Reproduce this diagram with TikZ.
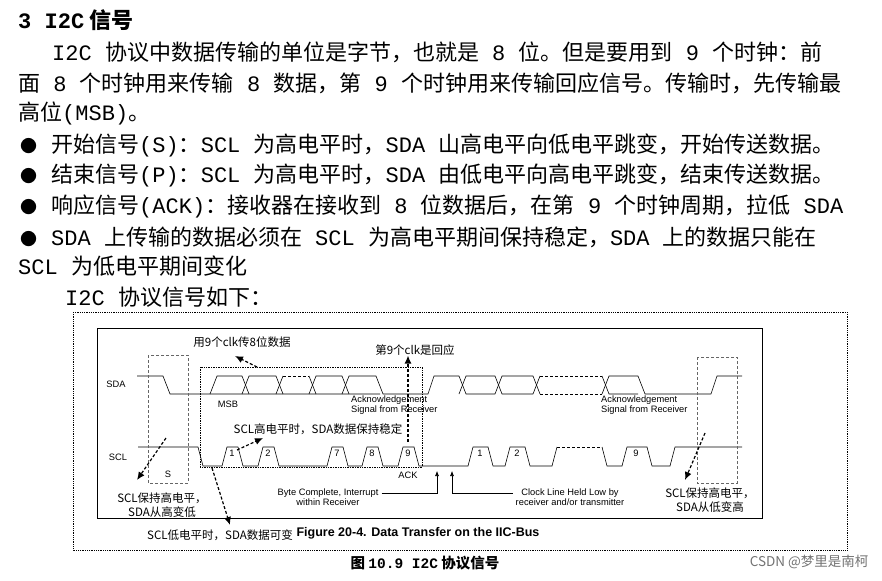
\documentclass[tikz,border=0pt]{standalone}
\usepackage{fontspec}
\setmainfont{Noto Sans CJK SC}
\newfontfamily\m{Liberation Mono}
\newfontfamily\ar{Liberation Sans}
\newfontfamily\cj{Noto Sans CJK SC}
\usetikzlibrary{arrows.meta}
\begin{document}
\begin{tikzpicture}[x=1pt,y=-1pt,
  body/.style={anchor=west,inner sep=0,font=\fontsize{22}{26}\selectfont},
  sig/.style={line width=0.6pt},
  lab/.style={font=\ar\fontsize{9.3}{10.5}\selectfont,inner sep=0,align=center},
  ann/.style={font=\cj\fontsize{11.5}{14}\selectfont,inner sep=0,align=center},
  darr/.style={densely dashed,line width=1.2pt,-{Latex[length=8pt,width=7pt]}},
  sarr/.style={line width=0.6pt,-{Latex[length=5pt,width=4pt]}}]
\useasboundingbox (0,0) rectangle (882,580);
\fill[white] (0,0) rectangle (882,580);
\newcommand\bul{{\fontsize{17}{20}\selectfont ●}\hspace{14pt}}
% text
\node[body,font=\bfseries\fontsize{22}{26}\selectfont] (t0) at (18,20) {{\m 3 I2C} 信号};
\node[body] (t1) at (52,52) {{\m I2C }协议中数据传输的单位是字节，也就是{\m{} 8 }位。但是要用到{\m{} 9 }个时钟：前};
\node[body] (t2) at (18,83) {面{\m{} 8 }个时钟用来传输{\m{} 8 }数据，第{\m{} 9 }个时钟用来传输回应信号。传输时，先传输最};
\node[body] (t3) at (18,113) {高位{\m(MSB)}。};
\node[body] (b1) at (20,145) {\bul 开始信号{\m(S)}：{\m SCL }为高电平时，{\m SDA }山高电平向低电平跳变，开始传送数据。};
\node[body] (b2) at (20,175) {\bul 结束信号{\m(P)}：{\m SCL }为高电平时，{\m SDA }由低电平向高电平跳变，结束传送数据。};
\node[body] (b3) at (20,206) {\bul 响应信号{\m(ACK)}：接收器在接收到{\m{} 8 }位数据后，在第{\m{} 9 }个时钟周期，拉低{\m{} SDA}};
\node[body] (b4) at (20,237) {\bul {\m SDA }上传输的数据必须在{\m{} SCL }为高电平期间保持稳定，{\m SDA }上的数据只能在};
\node[body] (t5) at (18,266) {{\m SCL }为低电平期间变化};
\node[body] (t6) at (65,297) {{\m I2C }协议信号如下：};
% frames
\draw[densely dotted,line width=0.8pt] (73,312) rectangle (847,550);
\draw[line width=1pt] (97,328) rectangle (762,518);
\node[font=\ar\bfseries\fontsize{12.5}{14}\selectfont] (cap) at (418,533) {Figure 20-4. Data Transfer on the IIC-Bus};
\node[font=\bfseries\fontsize{14.5}{16}\selectfont] (cap2) at (425,563) {图\ {\m 10.9 I2C} 协议信号};
\node[anchor=east,text=black!55,font=\fontsize{13.5}{16}\selectfont] (wm) at (872,562) {CSDN @梦里是南柯};
% SDA
\node[lab] (sda) at (116,384) {SDA};
\node[lab] (scl) at (118,457) {SCL};
\draw[sig] (137,376)--(163,376)--(170,394)--(380,394);
\draw[sig] (210,394)--(217,376)--(242,376)--(249,394);
\draw[sig] (242,394)--(249,376)--(276,376)--(283,394);
\draw[sig] (276,394)--(283,376);
\draw[sig,densely dashed] (283,376)--(309,376);
\draw[sig] (309,376)--(316,394);
\draw[sig] (309,394)--(316,376)--(342,376)--(349,394);
\draw[sig] (342,394)--(349,376)--(376,376)--(383,394)--(428,394)--(434,376)--(459,376)--(466,394)--(495,394)--(502,376)--(533,376)--(540,394);
\draw[sig] (459,394)--(466,376)--(495,376)--(502,394)--(533,394)--(540,376);
\draw[sig,densely dashed] (540,376)--(602,376);
\draw[sig,densely dashed] (540,394)--(602,394);
\draw[sig] (602,376)--(609,394)--(638,394);
\draw[sig] (602,394)--(609,376)--(638,376)--(645,394)--(711,394)--(717,376)--(742,376);
% SCL
\draw[sig] (138,447)--(198,447)--(203,466)--(222,466)
  --(227,447)--(238,447)--(243,466)--(258,466)
  --(263,447)--(274,447)--(279,466)--(327,466)
  --(332,447)--(343,447)--(348,466)--(362,466)
  --(367,447)--(378,447)--(383,466)--(398,466)
  --(403,447)--(414,447)--(419,466)--(468,466)
  --(473,447)--(488,447)--(493,466)--(505,466)
  --(510,447)--(525,447)--(530,466)--(552,466)--(557,447);
\draw[sig,densely dashed] (557,447)--(602,447);
\draw[sig] (602,447)--(607,466)--(622,466)--(627,447)--(647,447)--(652,466)--(670,466)--(675,447)--(742,447);
\foreach \x/\t in {232/1,268/2,337/7,372/8,408/9,480/1,517/2,636/9}
  \node[lab] at (\x,453) {\t};
% boxes
\draw[densely dashed,gray!80!black] (148,355) rectangle (188,483);
\node[lab] (S) at (168,474) {S};
\draw[densely dashed,gray!80!black] (697,357) rectangle (737,483);
\draw[densely dotted,line width=0.7pt] (200,367) rectangle (422,467);
% labels
\node[lab] (msb) at (228,404) {MSB};
\node[lab,align=left,anchor=west] (ack1) at (351,405) {Acknowledgement\\Signal from Receiver};
\node[lab,align=left,anchor=west] (ack2) at (601,405) {Acknowledgement\\Signal from Receiver};
\node[lab] (ACK) at (408,475) {ACK};
\node[lab] (bc) at (328,497) {Byte Complete, Interrupt\\within Receiver};
\node[lab] (cl) at (570,497) {Clock Line Held Low by\\receiver and/or transmitter};
\coordinate (c1) at (437,493);
\coordinate (c2) at (452,493);
\draw[sarr] ([xshift=3pt]bc.east|-c1) -- (c1) -- (437,471);
\draw[sarr] ([xshift=-3pt]cl.west|-c2) -- (c2) -- (452,471);
% annotations
\node[ann] (a1) at (242,342) {用9个clk传8位数据};
\node[ann] (a2) at (415,350) {第9个clk是回应};
\node[ann] (a3) at (318,429) {SCL高电平时，SDA数据保持稳定};
\node[ann] (a4) at (162,505) {SCL保持高电平，\\SDA从高变低};
\node[ann] (a5) at (220,535) {SCL低电平时，SDA数据可变};
\node[ann] (a6) at (710,500) {SCL保持高电平，\\SDA从低变高};
\coordinate (p1) at (257,367);
\coordinate (p2) at (408,442);
\coordinate (p3) at (237,450);
\coordinate (p4) at (166,438);
\coordinate (p5) at (212,468);
\coordinate (p6) at (705,433);
\draw[darr] (p1) -- (235,356);
\draw[darr] (p2) -- (a2.south-|p2);
\draw[darr] (p3) -- (263,438);
\draw[darr] (p4) -- (137,480);
\draw[darr] (p5) -- (230,525);
\draw[darr] (p6) -- (685,480);
\end{tikzpicture}
\end{document}
